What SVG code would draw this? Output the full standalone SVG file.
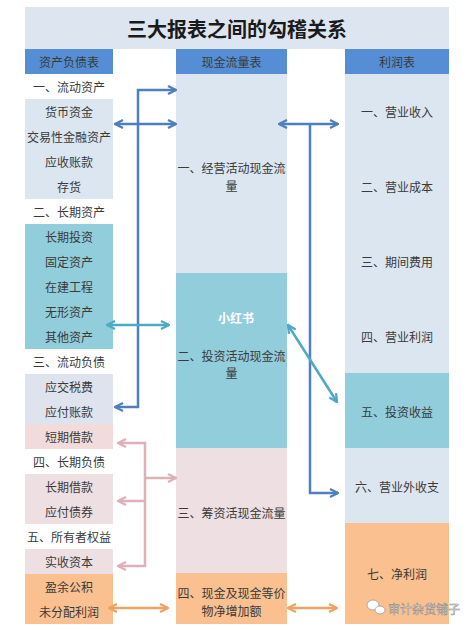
<svg xmlns="http://www.w3.org/2000/svg" width="474" height="631" viewBox="0 0 474 631">
<style>
text{font-family:"Noto Sans CJK SC","Noto Sans",sans-serif;font-size:12px;fill:#3a3a3a;text-anchor:middle;dominant-baseline:central}
.title{font-size:20px;font-weight:bold;fill:#1a1a1a}
.hdr{fill:#558ed5}
.w{fill:#ffffff}
.lb{fill:#dce6f1}
.tl{fill:#92cddc}
.lv{fill:#dfe3ee}
.pk{fill:#f2dcdb}
.pk2{fill:#eedfe3}
.or{fill:#fac090}
.c{fill:none;stroke-width:2.5}
.blue{stroke:#4f7fbf}
.teal{stroke:#4eaac4}
.pink{stroke:#ddb0ba}
.orng{stroke:#f0a262}
</style>
<defs>
<marker id="ab" viewBox="0 0 10 10" refX="9" refY="5" markerWidth="10" markerHeight="10" markerUnits="userSpaceOnUse" orient="auto-start-reverse"><path d="M1,1 L9,5 L1,9" fill="none" stroke="#4f7fbf" stroke-width="2.3"/></marker>
<marker id="at" viewBox="0 0 10 10" refX="9" refY="5" markerWidth="10" markerHeight="10" markerUnits="userSpaceOnUse" orient="auto-start-reverse"><path d="M1,1 L9,5 L1,9" fill="none" stroke="#4eaac4" stroke-width="2.3"/></marker>
<marker id="ap" viewBox="0 0 10 10" refX="9" refY="5" markerWidth="10" markerHeight="10" markerUnits="userSpaceOnUse" orient="auto-start-reverse"><path d="M1,1 L9,5 L1,9" fill="none" stroke="#ddb0ba" stroke-width="2.3"/></marker>
<marker id="ao" viewBox="0 0 10 10" refX="9" refY="5" markerWidth="10" markerHeight="10" markerUnits="userSpaceOnUse" orient="auto-start-reverse"><path d="M1,1 L9,5 L1,9" fill="none" stroke="#f0a262" stroke-width="2.3"/></marker>
</defs>
<rect x="0" y="0" width="474" height="631" fill="#ffffff"/>
<g id="title"><rect x="25" y="7" width="424" height="42" fill="#dde6f0"/><text class="title" x="237" y="28">三大报表之间的勾稽关系</text></g>
<g id="hdr-bs"><rect class="hdr" x="25" y="49" width="88" height="25"/><text x="69" y="61.5">资产负债表</text></g>
<g id="hdr-cf"><rect class="hdr" x="176" y="49" width="111" height="25"/><text x="231.5" y="61.5">现金流量表</text></g>
<g id="hdr-is"><rect class="hdr" x="345" y="49" width="104" height="25"/><text x="397" y="61.5">利润表</text></g>

<g id="bs">
<g id="bs0"><rect class="w" x="25" y="74" width="88" height="25"/><text x="69" y="86.5">一、流动资产</text></g>
<g id="bs1"><rect class="lb" x="25" y="99" width="88" height="25"/><text x="69" y="111.5">货币资金</text></g>
<g id="bs2"><rect class="lb" x="25" y="124" width="88" height="25"/><text x="69" y="136.5">交易性金融资产</text></g>
<g id="bs3"><rect class="lb" x="25" y="149" width="88" height="25"/><text x="69" y="161.5">应收账款</text></g>
<g id="bs4"><rect class="lb" x="25" y="174" width="88" height="25"/><text x="69" y="186.5">存货</text></g>
<g id="bs5"><rect class="w" x="25" y="199" width="88" height="25"/><text x="69" y="211.5">二、长期资产</text></g>
<g id="bs6"><rect class="tl" x="25" y="224" width="88" height="25"/><text x="69" y="236.5">长期投资</text></g>
<g id="bs7"><rect class="tl" x="25" y="249" width="88" height="25"/><text x="69" y="261.5">固定资产</text></g>
<g id="bs8"><rect class="tl" x="25" y="274" width="88" height="25"/><text x="69" y="286.5">在建工程</text></g>
<g id="bs9"><rect class="tl" x="25" y="299" width="88" height="25"/><text x="69" y="311.5">无形资产</text></g>
<g id="bs10"><rect class="tl" x="25" y="324" width="88" height="25"/><text x="69" y="336.5">其他资产</text></g>
<g id="bs11"><rect class="w" x="25" y="349" width="88" height="25"/><text x="69" y="361.5">三、流动负债</text></g>
<g id="bs12"><rect class="lv" x="25" y="374" width="88" height="25"/><text x="69" y="386.5">应交税费</text></g>
<g id="bs13"><rect class="lv" x="25" y="399" width="88" height="25"/><text x="69" y="411.5">应付账款</text></g>
<g id="bs14"><rect class="pk" x="25" y="424" width="88" height="25"/><text x="69" y="436.5">短期借款</text></g>
<g id="bs15"><rect class="w" x="25" y="449" width="88" height="25"/><text x="69" y="461.5">四、长期负债</text></g>
<g id="bs16"><rect class="pk2" x="25" y="474" width="88" height="25"/><text x="69" y="486.5">长期借款</text></g>
<g id="bs17"><rect class="pk2" x="25" y="499" width="88" height="25"/><text x="69" y="511.5">应付债券</text></g>
<g id="bs18"><rect class="w" x="25" y="524" width="88" height="25"/><text x="69" y="536.5">五、所有者权益</text></g>
<g id="bs19"><rect class="pk2" x="25" y="549" width="88" height="25"/><text x="69" y="561.5">实收资本</text></g>
<g id="bs20"><rect class="or" x="25" y="574" width="88" height="25"/><text x="69" y="586.5">盈余公积</text></g>
<g id="bs21"><rect class="or" x="25" y="599" width="88" height="25"/><text x="69" y="611.5">未分配利润</text></g>
</g>

<g id="cf">
<g id="cf1"><rect class="lb" x="176" y="74" width="111" height="199"/><text x="231.5" y="167">一、经营活动现金流</text><text x="231.5" y="185">量</text></g>
<g id="cf2"><rect class="tl" x="176" y="273" width="111" height="175"/><text x="236" y="317" style="fill:#ffffff;font-weight:bold">小红书</text><text x="231.5" y="355">二、投资活动现金流</text><text x="231.5" y="372">量</text></g>
<g id="cf3"><rect class="pk2" x="176" y="448" width="111" height="125"/><text x="231.5" y="512">三、筹资活现金流量</text></g>
<g id="cf4"><rect class="or" x="176" y="573" width="111" height="51"/><text x="231.5" y="592">四、现金及现金等价</text><text x="231.5" y="610">物净增加额</text></g>
</g>

<g id="is">
<g id="is1"><rect class="lb" x="345" y="74" width="104" height="299"/><text x="397" y="111.5">一、营业收入</text><text x="397" y="186.5">二、营业成本</text><text x="397" y="261.5">三、期间费用</text><text x="397" y="336.5">四、营业利润</text></g>
<g id="is5"><rect class="tl" x="345" y="373" width="104" height="75"/><text x="397" y="411.5">五、投资收益</text></g>
<g id="is6"><rect class="lb" x="345" y="448" width="104" height="75"/><text x="397" y="486.5">六、营业外收支</text></g>
<g id="is7"><rect class="or" x="345" y="523" width="104" height="101"/><text x="397" y="573">七、净利润</text></g>
</g>

<g id="connectors">
<polyline class="c blue" points="176,90 138,90 138,407 115,407" marker-start="url(#ab)" marker-end="url(#ab)"/>
<line class="c blue" x1="115" y1="124" x2="176" y2="124" marker-start="url(#ab)" marker-end="url(#ab)"/>
<line class="c blue" x1="279" y1="124" x2="338" y2="124" marker-start="url(#ab)" marker-end="url(#ab)"/>
<polyline class="c blue" points="310,124 310,493 338,493" marker-end="url(#ab)"/>
<line class="c teal" x1="107" y1="325" x2="169" y2="325" marker-start="url(#at)" marker-end="url(#at)"/>
<line class="c teal" x1="288" y1="325" x2="337" y2="402" marker-start="url(#at)" marker-end="url(#at)"/>
<polyline class="c pink" points="118,443 145,443 145,566 118,566" marker-start="url(#ap)" marker-end="url(#ap)"/>
<line class="c pink" x1="145" y1="501" x2="118" y2="501" marker-end="url(#ap)"/>
<line class="c pink" x1="145" y1="478" x2="176" y2="478" marker-end="url(#ap)"/>
<line class="c orng" x1="109" y1="608" x2="168" y2="608" marker-start="url(#ao)" marker-end="url(#ao)"/>
<line class="c orng" x1="288" y1="608" x2="337" y2="608" marker-start="url(#ao)" marker-end="url(#ao)"/>
</g>

<g id="watermark">
<ellipse cx="373" cy="605" rx="6" ry="5" fill="#ffffff" stroke="#999999" stroke-width="0.8"/>
<ellipse cx="380" cy="610" rx="5" ry="4" fill="#ffffff" stroke="#999999" stroke-width="0.8"/>
<text x="424" y="608" style="fill:#f6f6f6;stroke:#8a8a8a;stroke-width:0.5">审计杂货铺子</text>
</g>
</svg>
